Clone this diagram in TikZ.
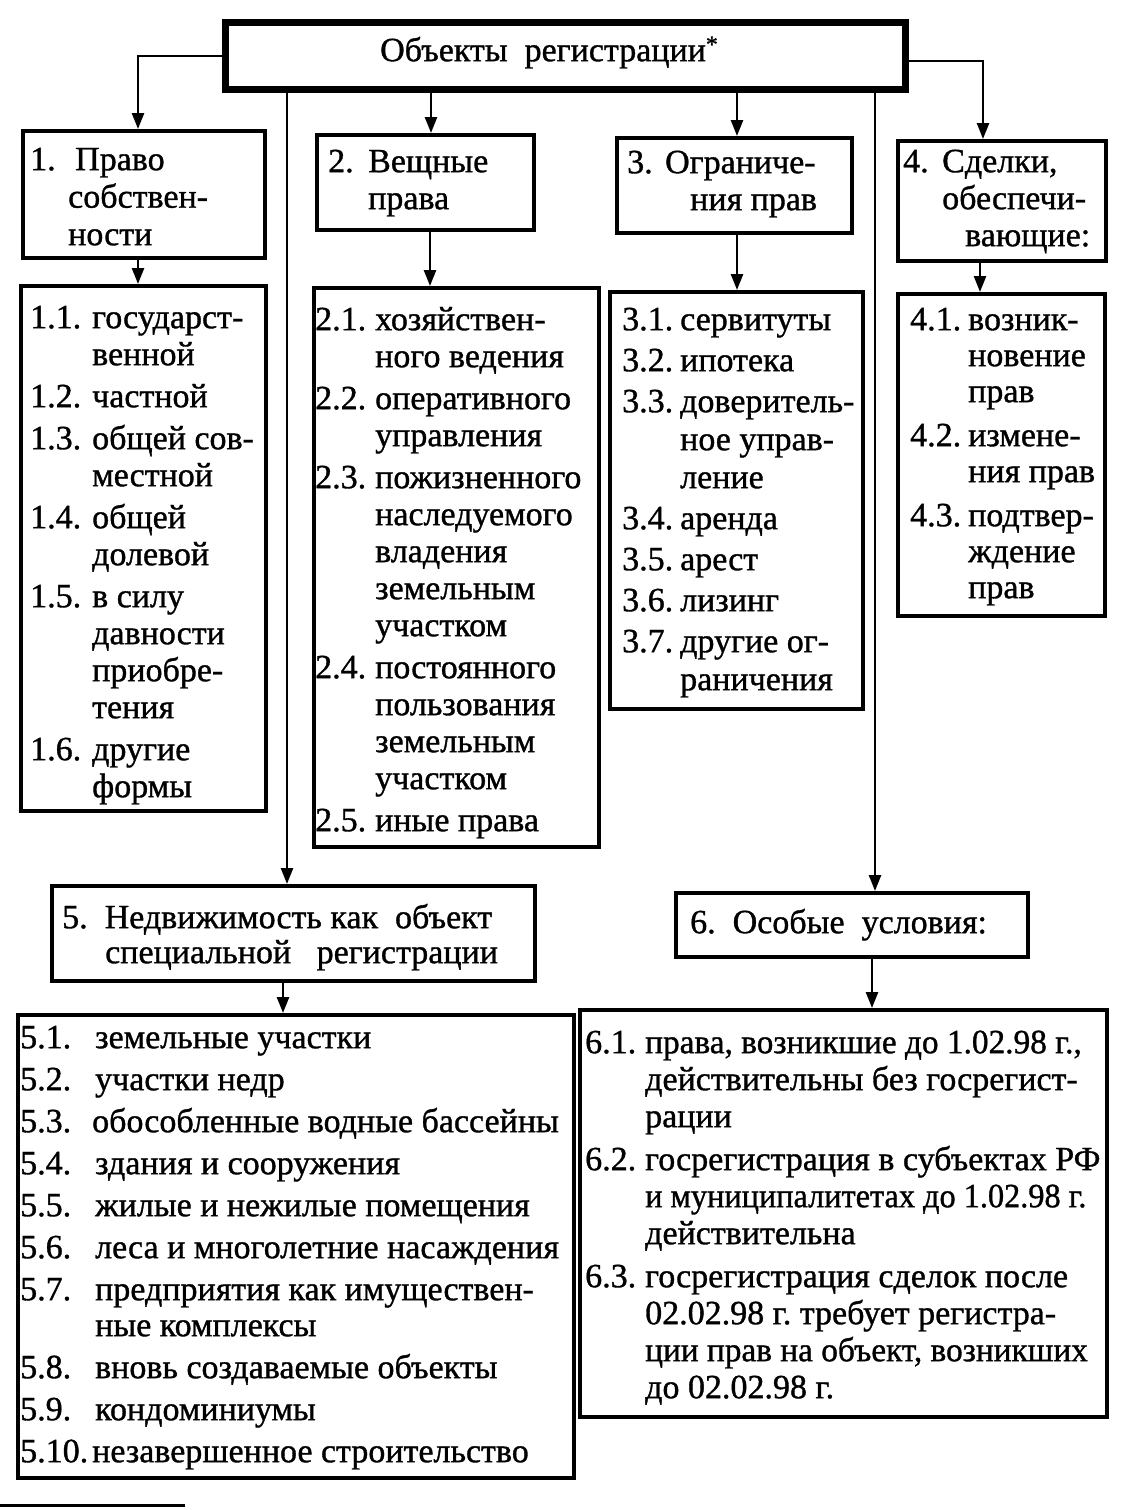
\documentclass[tikz,border=0pt]{standalone}
\usepackage{graphicx}
\usepackage{fontspec}
\setmainfont{Liberation Serif}[FakeBold=1]
\usetikzlibrary{arrows.meta,calc}
\newcommand{\fst}{\rule{0pt}{26pt}}
\newcommand{\itm}[3]{\makebox[#1][l]{#2}#3}
\newcommand{\cnt}[2]{\hspace*{#1}#2}
\begin{document}
\begin{tikzpicture}[x=1pt,y=-1pt,
  box/.style={draw, line width=4pt, inner sep=0pt, anchor=north west},
  txt/.style={inner sep=0pt, anchor=north west, align=left},
  fs/.style={font=\fontsize{34}{#1}\selectfont},
  arr/.style={line width=2.5pt, -{Triangle[length=16pt,width=12pt]}}]
\useasboundingbox (0,0) rectangle (1123,1510);
% boxes
\node[box, line width=7pt, minimum width=680pt, minimum height=67pt] (T) at (222,19) {};
\node[box, minimum width=242pt, minimum height=127pt] (b1) at (21,129) {};
\node[box, minimum width=217pt, minimum height=95pt] (b2) at (315,133) {};
\node[box, minimum width=235pt, minimum height=95pt] (b3) at (615,136) {};
\node[box, minimum width=208pt, minimum height=120pt] (b4) at (896,139) {};
\node[box, minimum width=245pt, minimum height=525pt] (b1x) at (19,284) {};
\node[box, minimum width=285pt, minimum height=559pt] (b2x) at (312,286) {};
\node[box, minimum width=253pt, minimum height=417pt] (b3x) at (608,290) {};
\node[box, minimum width=207pt, minimum height=322pt] (b4x) at (896,292) {};
\node[box, minimum width=483pt, minimum height=95pt] (b5) at (50,884) {};
\node[box, minimum width=352pt, minimum height=64pt] (b6) at (674,891) {};
\node[box, minimum width=556pt, minimum height=463pt] (b5x) at (16,1013) {};
\node[box, minimum width=527pt, minimum height=407pt] (b6x) at (578,1008) {};
% texts
\node[txt, fs=37] (tT) at (380,35) {\fst Объекты\ \ регистрации\textsuperscript{*}};
\node[txt, fs=37.5] (t1) at (30,144) {\fst\itm{45pt}{1.}{Право}\\ \cnt{38pt}{собствен-}\\ \cnt{38pt}{ности}};
\node[txt, fs=37] (t2) at (328,146) {\fst\itm{40pt}{2.}{Вещные}\\ \cnt{40pt}{права}};
\node[txt, fs=37] (t3) at (627,147) {\fst\itm{38pt}{3.}{Ограниче-}\\ \cnt{63pt}{ния\ прав}};
\node[txt, fs=37] (t4) at (903,146) {\fst\itm{39pt}{4.}{Сделки,}\\ \cnt{39pt}{обеспечи-}\\ \cnt{62pt}{вающие:}};
\node[txt, fs=37] (t1x) at (30,302) {\fst\itm{62pt}{1.1.}{государст-}\\
\cnt{62pt}{венной}\\[5pt]
\itm{62pt}{1.2.}{частной}\\[5pt]
\itm{62pt}{1.3.}{общей сов-}\\
\cnt{62pt}{местной}\\[5pt]
\itm{62pt}{1.4.}{общей}\\
\cnt{62pt}{долевой}\\[5pt]
\itm{62pt}{1.5.}{в\ силу}\\
\cnt{62pt}{давности}\\
\cnt{62pt}{приобре-}\\
\cnt{62pt}{тения}\\[5pt]
\itm{62pt}{1.6.}{другие}\\
\cnt{62pt}{формы}};
\node[txt, fs=37] (t2x) at (315,304) {\fst\itm{60pt}{2.1.}{хозяйствен-}\\
\cnt{60pt}{ного\ ведения}\\[5pt]
\itm{60pt}{2.2.}{оперативного}\\
\cnt{60pt}{управления}\\[5pt]
\itm{60pt}{2.3.}{пожизненного}\\
\cnt{60pt}{наследуемого}\\
\cnt{60pt}{владения}\\
\cnt{60pt}{земельным}\\
\cnt{60pt}{участком}\\[5pt]
\itm{60pt}{2.4.}{постоянного}\\
\cnt{60pt}{пользования}\\
\cnt{60pt}{земельным}\\
\cnt{60pt}{участком}\\[5pt]
\itm{60pt}{2.5.}{иные права}};
\node[txt, fs=38] (t3x) at (622,304) {\fst\itm{58pt}{3.1.}{сервитуты}\\[3pt]
\itm{58pt}{3.2.}{ипотека}\\[3pt]
\itm{58pt}{3.3.}{доверитель-}\\
\cnt{58pt}{ное\ управ-}\\
\cnt{58pt}{ление}\\[3pt]
\itm{58pt}{3.4.}{аренда}\\[3pt]
\itm{58pt}{3.5.}{арест}\\[3pt]
\itm{58pt}{3.6.}{лизинг}\\[3pt]
\itm{58pt}{3.7.}{другие\ ог-}\\
\cnt{58pt}{раничения}};
\node[txt, fs=36] (t4x) at (910,304) {\fst\itm{58pt}{4.1.}{возник-}\\
\cnt{58pt}{новение}\\
\cnt{58pt}{прав}\\[8pt]
\itm{58pt}{4.2.}{измене-}\\
\cnt{58pt}{ния прав}\\[8pt]
\itm{58pt}{4.3.}{подтвер-}\\
\cnt{58pt}{ждение}\\
\cnt{58pt}{прав}};
\node[txt, fs=35] (t5) at (62,902) {\fst 5.\ \ Недвижимость как\ \ объект\\ \cnt{43pt}{специальной\ \ \ регистрации}};
\node[txt] (t6) at (690,907) {\fontsize{34}{37}\selectfont\fst 6.\ \ Особые\ \ условия:};
\node[txt, fs=36] (t5x) at (20,1022) {\fst\itm{75pt}{5.1.}{земельные\ участки}\\[6pt]
\itm{75pt}{5.2.}{участки недр}\\[6pt]
\itm{72pt}{5.3.}{обособленные водные бассейны}\\[6pt]
\itm{75pt}{5.4.}{здания и сооружения}\\[6pt]
\itm{75pt}{5.5.}{жилые и нежилые помещения}\\[6pt]
\itm{75pt}{5.6.}{леса и многолетние насаждения}\\[6pt]
\itm{75pt}{5.7.}{предприятия\ как имуществен-}\\
\cnt{75pt}{ные комплексы}\\[6pt]
\itm{75pt}{5.8.}{вновь\ создаваемые\ объекты}\\[6pt]
\itm{75pt}{5.9.}{кондоминиумы}\\[6pt]
\itm{72pt}{5.10.}{незавершенное\ строительство}};
\node[txt, fs=37] (t6x) at (585,1027) {\fst\itm{60pt}{6.1.}{\scalebox{0.98}[1]{права, возникшие до 1.02.98 г.,}}\\
\cnt{60pt}{действительны\ без госрегист-}\\
\cnt{60pt}{рации}\\[6pt]
\itm{60pt}{6.2.}{госрегистрация в субъектах РФ}\\
\cnt{60pt}{\scalebox{0.95}[1]{и муниципалитетах до 1.02.98 г.}}\\
\cnt{60pt}{действительна}\\[6pt]
\itm{60pt}{6.3.}{госрегистрация\ сделок\ после}\\
\cnt{60pt}{02.02.98\ г.\ требует регистра-}\\
\cnt{60pt}{\scalebox{0.98}[1]{ции прав на объект, возникших}}\\
\cnt{60pt}{до 02.02.98 г.}};
% connector x positions
\coordinate (xa1) at (138,0);
\coordinate (xa2) at (431,0);
\coordinate (xa3) at (737,0);
\coordinate (xa4) at (983,0);
\coordinate (xa5) at (287,0);
\coordinate (xa6) at (875,0);
\coordinate (yr) at (0,61);
\coordinate (xb2) at (430,0);
\coordinate (xb4) at (980,0);
\coordinate (xc5) at (283,0);
\coordinate (xc6) at (872,0);
% connectors
\draw[arr] (T.west) -| (b1.north -| xa1);
\draw[arr] (T.east |- yr) -| (b4.north -| xa4);
\draw[arr] (T.south -| xa2) -- (b2.north -| xa2);
\draw[arr] (T.south -| xa3) -- (b3.north -| xa3);
\draw[arr] (T.south -| xa5) -- (b5.north -| xa5);
\draw[arr] (T.south -| xa6) -- (b6.north -| xa6);
\draw[arr] (b1.south -| xa1) -- (b1x.north -| xa1);
\draw[arr] (b2.south -| xb2) -- (b2x.north -| xb2);
\draw[arr] (b3.south -| xa3) -- (b3x.north -| xa3);
\draw[arr] (b4.south -| xb4) -- (b4x.north -| xb4);
\draw[arr] (b5.south -| xc5) -- (b5x.north -| xc5);
\draw[arr] (b6.south -| xc6) -- (b6x.north -| xc6);
% footnote rule
\draw[line width=3pt] (0,1505) -- (185,1505);
\end{tikzpicture}
\end{document}
